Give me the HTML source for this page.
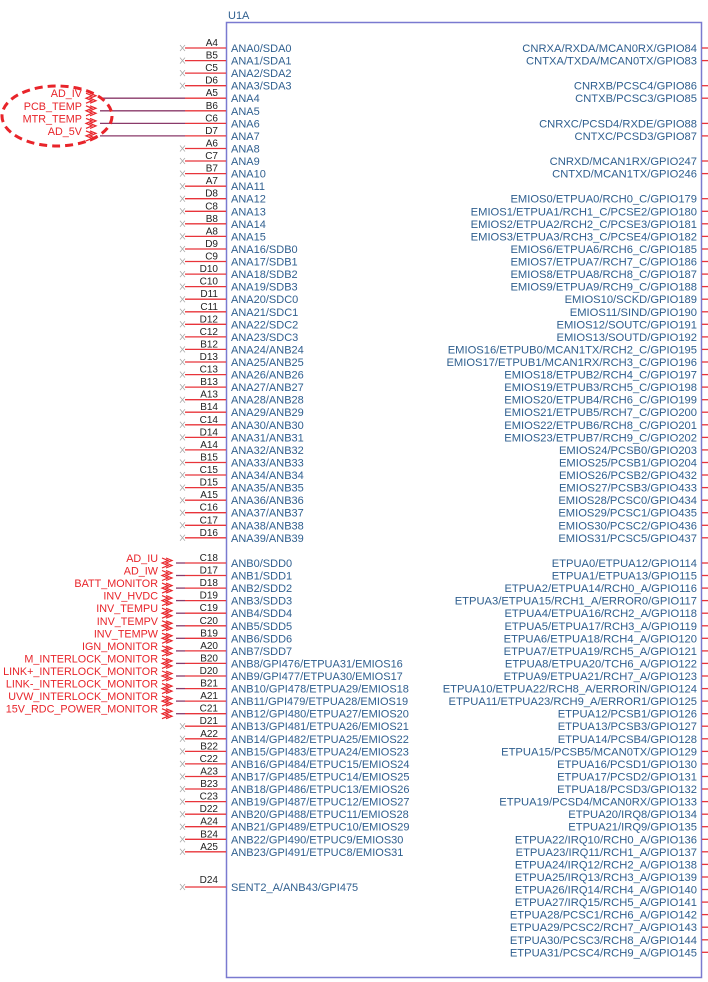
<!DOCTYPE html>
<html><head><meta charset="utf-8"><style>
html,body{margin:0;padding:0;background:#fff;width:708px;height:982px;overflow:hidden}
svg{display:block}
text{font-family:"Liberation Sans",Arial,sans-serif}
.l{font-size:11px;fill:#2f5f8f}
.r{font-size:11.2px;fill:#2f5f8f;text-anchor:end}
.p{font-size:10px;fill:#222;text-anchor:end}
.n{font-size:10.8px;fill:#e8242a;text-anchor:end}
.w{stroke:#e8343a;stroke-width:1.3;fill:none}
.x{stroke:#aaa;stroke-width:0.8;fill:none}
.pu{stroke:#8a3a6a;stroke-width:1.3;fill:none}
.z{stroke:#e8242a;stroke-width:1.2;fill:none}
</style></head><body>
<svg width="708" height="982" viewBox="0 0 708 982" xmlns="http://www.w3.org/2000/svg">
<defs>
<g id="L"><path class="x" d="M180 -3l5 6M180 3l5-6"/><path class="w" d="M185 0H226"/></g>
<g id="R"><path class="w" d="M702 0H708"/></g>
<g id="Z"><path class="z" d="M-6 -5L0 -2.5L-6 0L0 2.5L-6 5M-2 -5L4 -2.5L-2 0L4 2.5L-2 5"/></g>
</defs>
<text x="228" y="19" style="font-size:11px;fill:#2f5f8f">U1A</text>
<rect x="226.5" y="22.5" width="475" height="955" fill="none" stroke="#7a7ad0" stroke-width="1.5"/>

<g transform="translate(0,48)"><use href="#L"/><text class="p" x="218" y="-2">A4</text><text class="l" x="231" y="4">ANA0/SDA0</text></g>
<g transform="translate(0,60.6)"><use href="#L"/><text class="p" x="218" y="-2">B5</text><text class="l" x="231" y="4">ANA1/SDA1</text></g>
<g transform="translate(0,73.1)"><use href="#L"/><text class="p" x="218" y="-2">C5</text><text class="l" x="231" y="4">ANA2/SDA2</text></g>
<g transform="translate(0,85.7)"><use href="#L"/><text class="p" x="218" y="-2">D6</text><text class="l" x="231" y="4">ANA3/SDA3</text></g>
<g transform="translate(0,98.2)"><path class="pu" d="M100 0H185"/><path class="w" d="M185 0H226"/><use href="#Z" transform="translate(92,0)"/><text class="n" x="82" y="-1">AD_IV</text><text class="p" x="218" y="-2">A5</text><text class="l" x="231" y="4">ANA4</text></g>
<g transform="translate(0,110.8)"><path class="pu" d="M100 0H185"/><path class="w" d="M185 0H226"/><use href="#Z" transform="translate(92,0)"/><text class="n" x="82" y="-1">PCB_TEMP</text><text class="p" x="218" y="-2">B6</text><text class="l" x="231" y="4">ANA5</text></g>
<g transform="translate(0,123.4)"><path class="pu" d="M100 0H185"/><path class="w" d="M185 0H226"/><use href="#Z" transform="translate(92,0)"/><text class="n" x="82" y="-1">MTR_TEMP</text><text class="p" x="218" y="-2">C6</text><text class="l" x="231" y="4">ANA6</text></g>
<g transform="translate(0,135.9)"><path class="pu" d="M100 0H185"/><path class="w" d="M185 0H226"/><use href="#Z" transform="translate(92,0)"/><text class="n" x="82" y="-1">AD_5V</text><text class="p" x="218" y="-2">D7</text><text class="l" x="231" y="4">ANA7</text></g>
<ellipse cx="57" cy="116" rx="55" ry="30" fill="none" stroke="#e8242a" stroke-width="3" stroke-dasharray="8,5"/>
<g transform="translate(0,148.5)"><use href="#L"/><text class="p" x="218" y="-2">A6</text><text class="l" x="231" y="4">ANA8</text></g>
<g transform="translate(0,161)"><use href="#L"/><text class="p" x="218" y="-2">C7</text><text class="l" x="231" y="4">ANA9</text></g>
<g transform="translate(0,173.6)"><use href="#L"/><text class="p" x="218" y="-2">B7</text><text class="l" x="231" y="4">ANA10</text></g>
<g transform="translate(0,186.2)"><use href="#L"/><text class="p" x="218" y="-2">A7</text><text class="l" x="231" y="4">ANA11</text></g>
<g transform="translate(0,198.7)"><use href="#L"/><text class="p" x="218" y="-2">D8</text><text class="l" x="231" y="4">ANA12</text></g>
<g transform="translate(0,211.3)"><use href="#L"/><text class="p" x="218" y="-2">C8</text><text class="l" x="231" y="4">ANA13</text></g>
<g transform="translate(0,223.8)"><use href="#L"/><text class="p" x="218" y="-2">B8</text><text class="l" x="231" y="4">ANA14</text></g>
<g transform="translate(0,236.4)"><use href="#L"/><text class="p" x="218" y="-2">A8</text><text class="l" x="231" y="4">ANA15</text></g>
<g transform="translate(0,249)"><use href="#L"/><text class="p" x="218" y="-2">D9</text><text class="l" x="231" y="4">ANA16/SDB0</text></g>
<g transform="translate(0,261.5)"><use href="#L"/><text class="p" x="218" y="-2">C9</text><text class="l" x="231" y="4">ANA17/SDB1</text></g>
<g transform="translate(0,274.1)"><use href="#L"/><text class="p" x="218" y="-2">D10</text><text class="l" x="231" y="4">ANA18/SDB2</text></g>
<g transform="translate(0,286.6)"><use href="#L"/><text class="p" x="218" y="-2">C10</text><text class="l" x="231" y="4">ANA19/SDB3</text></g>
<g transform="translate(0,299.2)"><use href="#L"/><text class="p" x="218" y="-2">D11</text><text class="l" x="231" y="4">ANA20/SDC0</text></g>
<g transform="translate(0,311.8)"><use href="#L"/><text class="p" x="218" y="-2">C11</text><text class="l" x="231" y="4">ANA21/SDC1</text></g>
<g transform="translate(0,324.3)"><use href="#L"/><text class="p" x="218" y="-2">D12</text><text class="l" x="231" y="4">ANA22/SDC2</text></g>
<g transform="translate(0,336.9)"><use href="#L"/><text class="p" x="218" y="-2">C12</text><text class="l" x="231" y="4">ANA23/SDC3</text></g>
<g transform="translate(0,349.4)"><use href="#L"/><text class="p" x="218" y="-2">B12</text><text class="l" x="231" y="4">ANA24/ANB24</text></g>
<g transform="translate(0,362)"><use href="#L"/><text class="p" x="218" y="-2">D13</text><text class="l" x="231" y="4">ANA25/ANB25</text></g>
<g transform="translate(0,374.6)"><use href="#L"/><text class="p" x="218" y="-2">C13</text><text class="l" x="231" y="4">ANA26/ANB26</text></g>
<g transform="translate(0,387.1)"><use href="#L"/><text class="p" x="218" y="-2">B13</text><text class="l" x="231" y="4">ANA27/ANB27</text></g>
<g transform="translate(0,399.7)"><use href="#L"/><text class="p" x="218" y="-2">A13</text><text class="l" x="231" y="4">ANA28/ANB28</text></g>
<g transform="translate(0,412.2)"><use href="#L"/><text class="p" x="218" y="-2">B14</text><text class="l" x="231" y="4">ANA29/ANB29</text></g>
<g transform="translate(0,424.8)"><use href="#L"/><text class="p" x="218" y="-2">C14</text><text class="l" x="231" y="4">ANA30/ANB30</text></g>
<g transform="translate(0,437.4)"><use href="#L"/><text class="p" x="218" y="-2">D14</text><text class="l" x="231" y="4">ANA31/ANB31</text></g>
<g transform="translate(0,449.9)"><use href="#L"/><text class="p" x="218" y="-2">A14</text><text class="l" x="231" y="4">ANA32/ANB32</text></g>
<g transform="translate(0,462.5)"><use href="#L"/><text class="p" x="218" y="-2">B15</text><text class="l" x="231" y="4">ANA33/ANB33</text></g>
<g transform="translate(0,475)"><use href="#L"/><text class="p" x="218" y="-2">C15</text><text class="l" x="231" y="4">ANA34/ANB34</text></g>
<g transform="translate(0,487.6)"><use href="#L"/><text class="p" x="218" y="-2">D15</text><text class="l" x="231" y="4">ANA35/ANB35</text></g>
<g transform="translate(0,500.2)"><use href="#L"/><text class="p" x="218" y="-2">A15</text><text class="l" x="231" y="4">ANA36/ANB36</text></g>
<g transform="translate(0,512.7)"><use href="#L"/><text class="p" x="218" y="-2">C16</text><text class="l" x="231" y="4">ANA37/ANB37</text></g>
<g transform="translate(0,525.3)"><use href="#L"/><text class="p" x="218" y="-2">C17</text><text class="l" x="231" y="4">ANA38/ANB38</text></g>
<g transform="translate(0,537.8)"><use href="#L"/><text class="p" x="218" y="-2">D16</text><text class="l" x="231" y="4">ANA39/ANB39</text></g>

<g transform="translate(0,563)"><path class="pu" d="M176 0H185"/><path class="w" d="M185 0H226"/><use href="#Z" transform="translate(168,0)"/><text class="n" x="158" y="-1">AD_IU</text><text class="p" x="218" y="-2">C18</text><text class="l" x="231" y="4">ANB0/SDD0</text></g>
<g transform="translate(0,575.5)"><path class="pu" d="M176 0H185"/><path class="w" d="M185 0H226"/><use href="#Z" transform="translate(168,0)"/><text class="n" x="158" y="-1">AD_IW</text><text class="p" x="218" y="-2">D17</text><text class="l" x="231" y="4">ANB1/SDD1</text></g>
<g transform="translate(0,588.1)"><path class="pu" d="M176 0H185"/><path class="w" d="M185 0H226"/><use href="#Z" transform="translate(168,0)"/><text class="n" x="158" y="-1">BATT_MONITOR</text><text class="p" x="218" y="-2">D18</text><text class="l" x="231" y="4">ANB2/SDD2</text></g>
<g transform="translate(0,600.6)"><path class="pu" d="M176 0H185"/><path class="w" d="M185 0H226"/><use href="#Z" transform="translate(168,0)"/><text class="n" x="158" y="-1">INV_HVDC</text><text class="p" x="218" y="-2">D19</text><text class="l" x="231" y="4">ANB3/SDD3</text></g>
<g transform="translate(0,613.2)"><path class="pu" d="M176 0H185"/><path class="w" d="M185 0H226"/><use href="#Z" transform="translate(168,0)"/><text class="n" x="158" y="-1">INV_TEMPU</text><text class="p" x="218" y="-2">C19</text><text class="l" x="231" y="4">ANB4/SDD4</text></g>
<g transform="translate(0,625.8)"><path class="pu" d="M176 0H185"/><path class="w" d="M185 0H226"/><use href="#Z" transform="translate(168,0)"/><text class="n" x="158" y="-1">INV_TEMPV</text><text class="p" x="218" y="-2">C20</text><text class="l" x="231" y="4">ANB5/SDD5</text></g>
<g transform="translate(0,638.3)"><path class="pu" d="M176 0H185"/><path class="w" d="M185 0H226"/><use href="#Z" transform="translate(168,0)"/><text class="n" x="158" y="-1">INV_TEMPW</text><text class="p" x="218" y="-2">B19</text><text class="l" x="231" y="4">ANB6/SDD6</text></g>
<g transform="translate(0,650.9)"><path class="pu" d="M176 0H185"/><path class="w" d="M185 0H226"/><use href="#Z" transform="translate(168,0)"/><text class="n" x="158" y="-1">IGN_MONITOR</text><text class="p" x="218" y="-2">A20</text><text class="l" x="231" y="4">ANB7/SDD7</text></g>
<g transform="translate(0,663.4)"><path class="pu" d="M176 0H185"/><path class="w" d="M185 0H226"/><use href="#Z" transform="translate(168,0)"/><text class="n" x="158" y="-1">M_INTERLOCK_MONITOR</text><text class="p" x="218" y="-2">B20</text><text class="l" x="231" y="4">ANB8/GPI476/ETPUA31/EMIOS16</text></g>
<g transform="translate(0,676)"><path class="pu" d="M176 0H185"/><path class="w" d="M185 0H226"/><use href="#Z" transform="translate(168,0)"/><text class="n" x="158" y="-1">LINK+_INTERLOCK_MONITOR</text><text class="p" x="218" y="-2">D20</text><text class="l" x="231" y="4">ANB9/GPI477/ETPUA30/EMIOS17</text></g>
<g transform="translate(0,688.6)"><path class="pu" d="M176 0H185"/><path class="w" d="M185 0H226"/><use href="#Z" transform="translate(168,0)"/><text class="n" x="158" y="-1">LINK-_INTERLOCK_MONITOR</text><text class="p" x="218" y="-2">B21</text><text class="l" x="231" y="4">ANB10/GPI478/ETPUA29/EMIOS18</text></g>
<g transform="translate(0,701.1)"><path class="pu" d="M176 0H185"/><path class="w" d="M185 0H226"/><use href="#Z" transform="translate(168,0)"/><text class="n" x="158" y="-1">UVW_INTERLOCK_MONITOR</text><text class="p" x="218" y="-2">A21</text><text class="l" x="231" y="4">ANB11/GPI479/ETPUA28/EMIOS19</text></g>
<g transform="translate(0,713.7)"><path class="pu" d="M176 0H185"/><path class="w" d="M185 0H226"/><use href="#Z" transform="translate(168,0)"/><text class="n" x="158" y="-1">15V_RDC_POWER_MONITOR</text><text class="p" x="218" y="-2">C21</text><text class="l" x="231" y="4">ANB12/GPI480/ETPUA27/EMIOS20</text></g>
<g transform="translate(0,726.2)"><use href="#L"/><text class="p" x="218" y="-2">D21</text><text class="l" x="231" y="4">ANB13/GPI481/ETPUA26/EMIOS21</text></g>
<g transform="translate(0,738.8)"><use href="#L"/><text class="p" x="218" y="-2">A22</text><text class="l" x="231" y="4">ANB14/GPI482/ETPUA25/EMIOS22</text></g>
<g transform="translate(0,751.4)"><use href="#L"/><text class="p" x="218" y="-2">B22</text><text class="l" x="231" y="4">ANB15/GPI483/ETPUA24/EMIOS23</text></g>
<g transform="translate(0,763.9)"><use href="#L"/><text class="p" x="218" y="-2">C22</text><text class="l" x="231" y="4">ANB16/GPI484/ETPUC15/EMIOS24</text></g>
<g transform="translate(0,776.5)"><use href="#L"/><text class="p" x="218" y="-2">A23</text><text class="l" x="231" y="4">ANB17/GPI485/ETPUC14/EMIOS25</text></g>
<g transform="translate(0,789)"><use href="#L"/><text class="p" x="218" y="-2">B23</text><text class="l" x="231" y="4">ANB18/GPI486/ETPUC13/EMIOS26</text></g>
<g transform="translate(0,801.6)"><use href="#L"/><text class="p" x="218" y="-2">C23</text><text class="l" x="231" y="4">ANB19/GPI487/ETPUC12/EMIOS27</text></g>
<g transform="translate(0,814.2)"><use href="#L"/><text class="p" x="218" y="-2">D22</text><text class="l" x="231" y="4">ANB20/GPI488/ETPUC11/EMIOS28</text></g>
<g transform="translate(0,826.7)"><use href="#L"/><text class="p" x="218" y="-2">A24</text><text class="l" x="231" y="4">ANB21/GPI489/ETPUC10/EMIOS29</text></g>
<g transform="translate(0,839.3)"><use href="#L"/><text class="p" x="218" y="-2">B24</text><text class="l" x="231" y="4">ANB22/GPI490/ETPUC9/EMIOS30</text></g>
<g transform="translate(0,851.8)"><use href="#L"/><text class="p" x="218" y="-2">A25</text><text class="l" x="231" y="4">ANB23/GPI491/ETPUC8/EMIOS31</text></g>
<g transform="translate(0,887)"><use href="#L"/><text class="p" x="218" y="-4">D24</text><text class="l" x="231" y="4">SENT2_A/ANB43/GPI475</text></g>

<g transform="translate(0,48)"><use href="#R"/><text class="r" x="697" y="4">CNRXA/RXDA/MCAN0RX/GPIO84</text></g>
<g transform="translate(0,60.6)"><use href="#R"/><text class="r" x="697" y="4">CNTXA/TXDA/MCAN0TX/GPIO83</text></g>
<g transform="translate(0,85.7)"><use href="#R"/><text class="r" x="697" y="4">CNRXB/PCSC4/GPIO86</text></g>
<g transform="translate(0,98.2)"><use href="#R"/><text class="r" x="697" y="4">CNTXB/PCSC3/GPIO85</text></g>
<g transform="translate(0,123.4)"><use href="#R"/><text class="r" x="697" y="4">CNRXC/PCSD4/RXDE/GPIO88</text></g>
<g transform="translate(0,135.9)"><use href="#R"/><text class="r" x="697" y="4">CNTXC/PCSD3/GPIO87</text></g>
<g transform="translate(0,161)"><use href="#R"/><text class="r" x="697" y="4">CNRXD/MCAN1RX/GPIO247</text></g>
<g transform="translate(0,173.6)"><use href="#R"/><text class="r" x="697" y="4">CNTXD/MCAN1TX/GPIO246</text></g>
<g transform="translate(0,198.7)"><use href="#R"/><text class="r" x="697" y="4">EMIOS0/ETPUA0/RCH0_C/GPIO179</text></g>
<g transform="translate(0,211.3)"><use href="#R"/><text class="r" x="697" y="4">EMIOS1/ETPUA1/RCH1_C/PCSE2/GPIO180</text></g>
<g transform="translate(0,223.8)"><use href="#R"/><text class="r" x="697" y="4">EMIOS2/ETPUA2/RCH2_C/PCSE3/GPIO181</text></g>
<g transform="translate(0,236.4)"><use href="#R"/><text class="r" x="697" y="4">EMIOS3/ETPUA3/RCH3_C/PCSE4/GPIO182</text></g>
<g transform="translate(0,249)"><use href="#R"/><text class="r" x="697" y="4">EMIOS6/ETPUA6/RCH6_C/GPIO185</text></g>
<g transform="translate(0,261.5)"><use href="#R"/><text class="r" x="697" y="4">EMIOS7/ETPUA7/RCH7_C/GPIO186</text></g>
<g transform="translate(0,274.1)"><use href="#R"/><text class="r" x="697" y="4">EMIOS8/ETPUA8/RCH8_C/GPIO187</text></g>
<g transform="translate(0,286.6)"><use href="#R"/><text class="r" x="697" y="4">EMIOS9/ETPUA9/RCH9_C/GPIO188</text></g>
<g transform="translate(0,299.2)"><use href="#R"/><text class="r" x="697" y="4">EMIOS10/SCKD/GPIO189</text></g>
<g transform="translate(0,311.8)"><use href="#R"/><text class="r" x="697" y="4">EMIOS11/SIND/GPIO190</text></g>
<g transform="translate(0,324.3)"><use href="#R"/><text class="r" x="697" y="4">EMIOS12/SOUTC/GPIO191</text></g>
<g transform="translate(0,336.9)"><use href="#R"/><text class="r" x="697" y="4">EMIOS13/SOUTD/GPIO192</text></g>
<g transform="translate(0,349.4)"><use href="#R"/><text class="r" x="697" y="4">EMIOS16/ETPUB0/MCAN1TX/RCH2_C/GPIO195</text></g>
<g transform="translate(0,362)"><use href="#R"/><text class="r" x="697" y="4">EMIOS17/ETPUB1/MCAN1RX/RCH3_C/GPIO196</text></g>
<g transform="translate(0,374.6)"><use href="#R"/><text class="r" x="697" y="4">EMIOS18/ETPUB2/RCH4_C/GPIO197</text></g>
<g transform="translate(0,387.1)"><use href="#R"/><text class="r" x="697" y="4">EMIOS19/ETPUB3/RCH5_C/GPIO198</text></g>
<g transform="translate(0,399.7)"><use href="#R"/><text class="r" x="697" y="4">EMIOS20/ETPUB4/RCH6_C/GPIO199</text></g>
<g transform="translate(0,412.2)"><use href="#R"/><text class="r" x="697" y="4">EMIOS21/ETPUB5/RCH7_C/GPIO200</text></g>
<g transform="translate(0,424.8)"><use href="#R"/><text class="r" x="697" y="4">EMIOS22/ETPUB6/RCH8_C/GPIO201</text></g>
<g transform="translate(0,437.4)"><use href="#R"/><text class="r" x="697" y="4">EMIOS23/ETPUB7/RCH9_C/GPIO202</text></g>
<g transform="translate(0,449.9)"><use href="#R"/><text class="r" x="697" y="4">EMIOS24/PCSB0/GPIO203</text></g>
<g transform="translate(0,462.5)"><use href="#R"/><text class="r" x="697" y="4">EMIOS25/PCSB1/GPIO204</text></g>
<g transform="translate(0,475)"><use href="#R"/><text class="r" x="697" y="4">EMIOS26/PCSB2/GPIO432</text></g>
<g transform="translate(0,487.6)"><use href="#R"/><text class="r" x="697" y="4">EMIOS27/PCSB3/GPIO433</text></g>
<g transform="translate(0,500.2)"><use href="#R"/><text class="r" x="697" y="4">EMIOS28/PCSC0/GPIO434</text></g>
<g transform="translate(0,512.7)"><use href="#R"/><text class="r" x="697" y="4">EMIOS29/PCSC1/GPIO435</text></g>
<g transform="translate(0,525.3)"><use href="#R"/><text class="r" x="697" y="4">EMIOS30/PCSC2/GPIO436</text></g>
<g transform="translate(0,537.8)"><use href="#R"/><text class="r" x="697" y="4">EMIOS31/PCSC5/GPIO437</text></g>
<g transform="translate(0,563)"><use href="#R"/><text class="r" x="697" y="4">ETPUA0/ETPUA12/GPIO114</text></g>
<g transform="translate(0,575.5)"><use href="#R"/><text class="r" x="697" y="4">ETPUA1/ETPUA13/GPIO115</text></g>
<g transform="translate(0,588.1)"><use href="#R"/><text class="r" x="697" y="4">ETPUA2/ETPUA14/RCH0_A/GPIO116</text></g>
<g transform="translate(0,600.6)"><use href="#R"/><text class="r" x="697" y="4">ETPUA3/ETPUA15/RCH1_A/ERROR0/GPIO117</text></g>
<g transform="translate(0,613.2)"><use href="#R"/><text class="r" x="697" y="4">ETPUA4/ETPUA16/RCH2_A/GPIO118</text></g>
<g transform="translate(0,625.8)"><use href="#R"/><text class="r" x="697" y="4">ETPUA5/ETPUA17/RCH3_A/GPIO119</text></g>
<g transform="translate(0,638.3)"><use href="#R"/><text class="r" x="697" y="4">ETPUA6/ETPUA18/RCH4_A/GPIO120</text></g>
<g transform="translate(0,650.9)"><use href="#R"/><text class="r" x="697" y="4">ETPUA7/ETPUA19/RCH5_A/GPIO121</text></g>
<g transform="translate(0,663.4)"><use href="#R"/><text class="r" x="697" y="4">ETPUA8/ETPUA20/TCH6_A/GPIO122</text></g>
<g transform="translate(0,676)"><use href="#R"/><text class="r" x="697" y="4">ETPUA9/ETPUA21/RCH7_A/GPIO123</text></g>
<g transform="translate(0,688.6)"><use href="#R"/><text class="r" x="697" y="4">ETPUA10/ETPUA22/RCH8_A/ERRORIN/GPIO124</text></g>
<g transform="translate(0,701.1)"><use href="#R"/><text class="r" x="697" y="4">ETPUA11/ETPUA23/RCH9_A/ERROR1/GPIO125</text></g>
<g transform="translate(0,713.7)"><use href="#R"/><text class="r" x="697" y="4">ETPUA12/PCSB1/GPIO126</text></g>
<g transform="translate(0,726.2)"><use href="#R"/><text class="r" x="697" y="4">ETPUA13/PCSB3/GPIO127</text></g>
<g transform="translate(0,738.8)"><use href="#R"/><text class="r" x="697" y="4">ETPUA14/PCSB4/GPIO128</text></g>
<g transform="translate(0,751.4)"><use href="#R"/><text class="r" x="697" y="4">ETPUA15/PCSB5/MCAN0TX/GPIO129</text></g>
<g transform="translate(0,763.9)"><use href="#R"/><text class="r" x="697" y="4">ETPUA16/PCSD1/GPIO130</text></g>
<g transform="translate(0,776.5)"><use href="#R"/><text class="r" x="697" y="4">ETPUA17/PCSD2/GPIO131</text></g>
<g transform="translate(0,789)"><use href="#R"/><text class="r" x="697" y="4">ETPUA18/PCSD3/GPIO132</text></g>
<g transform="translate(0,801.6)"><use href="#R"/><text class="r" x="697" y="4">ETPUA19/PCSD4/MCAN0RX/GPIO133</text></g>
<g transform="translate(0,814.2)"><use href="#R"/><text class="r" x="697" y="4">ETPUA20/IRQ8/GPIO134</text></g>
<g transform="translate(0,826.7)"><use href="#R"/><text class="r" x="697" y="4">ETPUA21/IRQ9/GPIO135</text></g>
<g transform="translate(0,839.3)"><use href="#R"/><text class="r" x="697" y="4">ETPUA22/IRQ10/RCH0_A/GPIO136</text></g>
<g transform="translate(0,851.8)"><use href="#R"/><text class="r" x="697" y="4">ETPUA23/IRQ11/RCH1_A/GPIO137</text></g>
<g transform="translate(0,864.4)"><use href="#R"/><text class="r" x="697" y="4">ETPUA24/IRQ12/RCH2_A/GPIO138</text></g>
<g transform="translate(0,877)"><use href="#R"/><text class="r" x="697" y="4">ETPUA25/IRQ13/RCH3_A/GPIO139</text></g>
<g transform="translate(0,889.5)"><use href="#R"/><text class="r" x="697" y="4">ETPUA26/IRQ14/RCH4_A/GPIO140</text></g>
<g transform="translate(0,902.1)"><use href="#R"/><text class="r" x="697" y="4">ETPUA27/IRQ15/RCH5_A/GPIO141</text></g>
<g transform="translate(0,914.6)"><use href="#R"/><text class="r" x="697" y="4">ETPUA28/PCSC1/RCH6_A/GPIO142</text></g>
<g transform="translate(0,927.2)"><use href="#R"/><text class="r" x="697" y="4">ETPUA29/PCSC2/RCH7_A/GPIO143</text></g>
<g transform="translate(0,939.8)"><use href="#R"/><text class="r" x="697" y="4">ETPUA30/PCSC3/RCH8_A/GPIO144</text></g>
<g transform="translate(0,952.3)"><use href="#R"/><text class="r" x="697" y="4">ETPUA31/PCSC4/RCH9_A/GPIO145</text></g>
</svg>
</body></html>
